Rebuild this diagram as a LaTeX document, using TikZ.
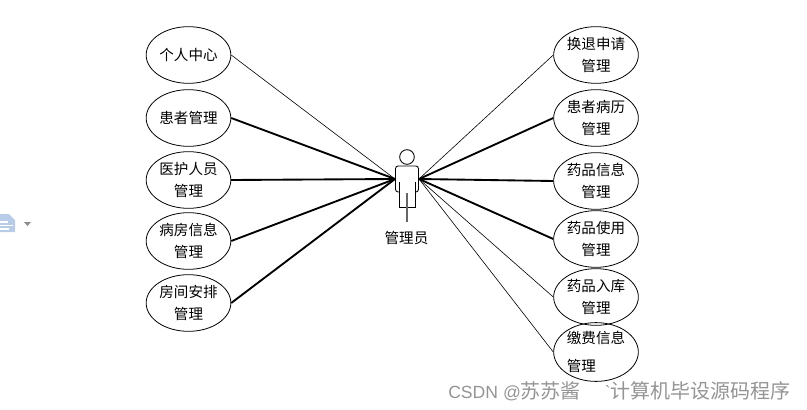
\documentclass[tikz,border=0pt]{standalone}
\usepackage{fontspec}
\usetikzlibrary{shapes.geometric}
\setmainfont{Noto Sans CJK SC}
\newfontfamily\wmfont{Liberation Sans}
\definecolor{iconblue}{HTML}{B8CCE8}
\tikzset{
  usecase/.style={draw,ellipse,minimum width=63.5pt,minimum height=42.5pt,inner sep=0pt,line width=.6pt,
    font=\fontsize{10.9pt}{16.5pt}\selectfont,align=center},
  thinlink/.style={line width=.45pt},
  thicklink/.style={line width=1.4pt},
  actorline/.style={line width=.65pt},
  watermark/.style={text=black!42,font=\fontsize{15pt}{17pt}\selectfont,inner sep=0pt}
}
\begin{document}
\begin{tikzpicture}[x=.75pt,y=-.75pt]
\useasboundingbox (0,0) rectangle (807,410);
\node[usecase] (a1) at (188.5,55) {个人中心};
\node[usecase] (a2) at (188.5,118) {患者管理};
\node[usecase] (a3) at (188.5,180) {医护人员\\管理};
\node[usecase] (a4) at (188.5,241) {病房信息\\管理};
\node[usecase] (a5) at (188.5,303) {房间安排\\管理};
\node[usecase] (b1) at (596,55) {换退申请\\管理};
\node[usecase] (b2) at (596,118) {患者病历\\管理};
\node[usecase] (b3) at (596,181) {药品信息\\管理};
\node[usecase] (b4) at (596,239) {药品使用\\管理};
\node[usecase] (b5) at (596,297) {药品入库\\管理};
\node[usecase,font=\fontsize{10.9pt}{21pt}\selectfont,align=left] (b6) at (596,352) {缴费信息\\管理\phantom{信息}};
\coordinate (hl) at (395,179);
\coordinate (hr) at (419,179);
% actor
\node[draw,circle,actorline,minimum size=11pt,inner sep=0pt] (head) at (407,157) {};
\draw[actorline,rounded corners=2pt] (399,192) -- (395.5,192) -- (395.5,166) -- (418.5,166) -- (418.5,192) -- (415,192);
\draw[actorline] (399,182) -- (399,207) -- (415,207) -- (415,182);
\draw[line width=.9pt,black!60] (407,193) -- (407,222);
\node[font=\fontsize{10.9pt}{13pt}\selectfont,inner sep=0pt] (actor) at (406.5,238) {管理员};
% connectors
\draw[thinlink] (a1.east) -- (hl);
\draw[thicklink] (a2.east) -- (hl);
\draw[thicklink] (a3.east) -- (hl);
\draw[thicklink] (a4.east) -- (hl);
\draw[thicklink] (a5.east) -- (hl);
\draw[thinlink] (b1.west) -- (hr);
\draw[thicklink] (b2.west) -- (hr);
\draw[thicklink] (b3.west) -- (hr);
\draw[thicklink] (b4.west) -- (hr);
\draw[thinlink] (b5.west) -- (hr);
\draw[thinlink] (b6.west) -- (hr);
% watermark
\node[watermark,anchor=west] (wm) at (448,391) {{\wmfont\fontsize{13.2pt}{17pt}\selectfont CSDN @}苏苏酱\hspace{18pt}{\wmfont\fontsize{13.2pt}{17pt}\selectfont\textasciigrave}计算机毕设源码程序};
% page icon
\fill[iconblue] (0,214) -- (9,214) -- (15,220) -- (15,232) -- (0,232) -- cycle;
\draw[white,line width=.8pt] (0,222) -- (8,222) (0,225.5) -- (13,225.5) (0,229) -- (9,229);
\fill[black!45] (24,222) -- (31,222) -- (27.5,226) -- cycle;
\end{tikzpicture}
\end{document}
